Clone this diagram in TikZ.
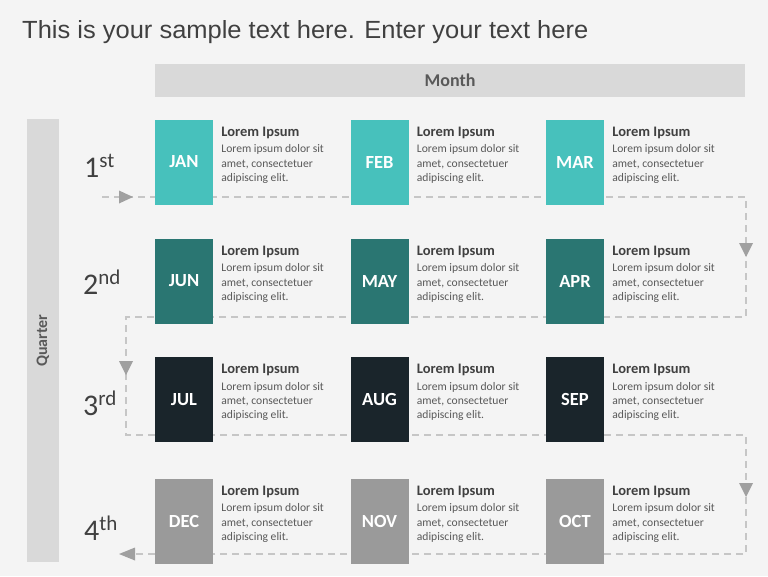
\documentclass[tikz,border=0pt]{standalone}
\usepackage{fontspec}
\setmainfont{Carlito}
\newfontfamily\titlefont{Liberation Sans}
\usetikzlibrary{shapes.geometric}
\definecolor{bgc}{HTML}{F4F4F4}
\definecolor{hdr}{HTML}{D9D9D9}
\definecolor{qa}{HTML}{47C1BC}
\definecolor{qb}{HTML}{2A7672}
\definecolor{qc}{HTML}{1A252B}
\definecolor{qd}{HTML}{9A9A9A}
\definecolor{dashc}{HTML}{C6C6C6}
\definecolor{arrc}{HTML}{A0A0A0}
\definecolor{dark}{HTML}{404040}
\definecolor{mid}{HTML}{595959}
\tikzset{
  monthbox/.style={minimum width=58pt, minimum height=85pt, inner sep=0, text=white,
    font=\fontsize{18.5}{20}\selectfont\bfseries},
  headtxt/.style={anchor=west, inner sep=0, text=dark, font=\fontsize{14.5}{16}\selectfont\bfseries},
  bodytxt/.style={anchor=north west, inner sep=0, text=mid, align=left,
    font=\fontsize{11.6}{14.3}\selectfont},
  ordtxt/.style={anchor=base west, inner sep=0, text=dark, font=\fontsize{30}{31}\selectfont},
  flow/.style={dashc, line width=1.3pt, dash pattern=on 7pt off 5pt},
  tri/.style={arrc},
}
\begin{document}
\begin{tikzpicture}[x=1pt,y=-1pt]
\fill[bgc] (0,0) rectangle (768,576);
\useasboundingbox (0,0) rectangle (768,576);
% title
\node[anchor=base west, inner sep=0, text=dark] (title) at (22,38)
  {\resizebox{566pt}{18pt}{\titlefont\fontsize{24}{26}\selectfont This is your sample text here. Enter your text here}};
% headers
\node[fill=hdr, minimum width=590pt, minimum height=33pt, inner sep=0, text=mid,
  font=\fontsize{18}{20}\selectfont\bfseries] (month) at (450,80.5) {Month};
\node[fill=hdr, minimum width=443pt, minimum height=32pt, inner sep=0, text=mid, rotate=90,
  font=\fontsize{16}{18}\selectfont\bfseries] (quarter) at (43,340.5) {Quarter};
% flow path
\coordinate (s1) at (102,197);
\coordinate (r1) at (746,197);
\coordinate (r2) at (746,317);
\coordinate (l2) at (126,317);
\coordinate (l3) at (126,435);
\coordinate (r3) at (746,435);
\coordinate (r4) at (746,554);
\coordinate (e4) at (124,554);
\draw[flow] (s1) -- (r1) -- (r2) -- (l2) -- (l3) -- (r3) -- (r4) -- (e4);
% arrow heads
\fill[tri] (119,190.5) -- (133,197) -- (119,203.5) -- cycle;
\fill[tri] (739,243) -- (753,243) -- (746,257) -- cycle;
\fill[tri] (119,361) -- (133,361) -- (126,375) -- cycle;
\fill[tri] (739,483) -- (753,483) -- (746,497) -- cycle;
\fill[tri] (135,547.5) -- (119,554) -- (135,560.5) -- cycle;
% ordinals
\node[ordtxt] (o1) at (84,177) {1\textsuperscript{st}};
\node[ordtxt] (o2) at (83,294) {2\textsuperscript{nd}};
\node[ordtxt] (o3) at (83,415) {3\textsuperscript{rd}};
\node[ordtxt] (o4) at (84,540) {4\textsuperscript{th}};
% boxes
\foreach \nm/\lab/\x/\y/\c in {
  jan/JAN/184/162/qa, feb/FEB/379.5/162/qa, mar/MAR/575/162/qa,
  jun/JUN/184/281/qb, may/MAY/379.5/281/qb, apr/APR/575/281/qb,
  jul/JUL/184/399.5/qc, aug/AUG/379.5/399.5/qc, sep/SEP/575/399.5/qc,
  dec/DEC/184/521/qd, nov/NOV/379.5/521/qd, oct/OCT/575/521/qd}{
  \node[monthbox, fill=\c] (\nm) at (\x,\y) {\lab};
  \node[headtxt] (\nm-h) at ([xshift=8pt, yshift=29.5pt]\nm.east) {Lorem Ipsum};
  \node[bodytxt] (\nm-b) at ([yshift=-12pt]\nm-h.west) {Lorem ipsum dolor sit\\amet, consectetuer\\adipiscing elit.};
}
\end{tikzpicture}
\end{document}
